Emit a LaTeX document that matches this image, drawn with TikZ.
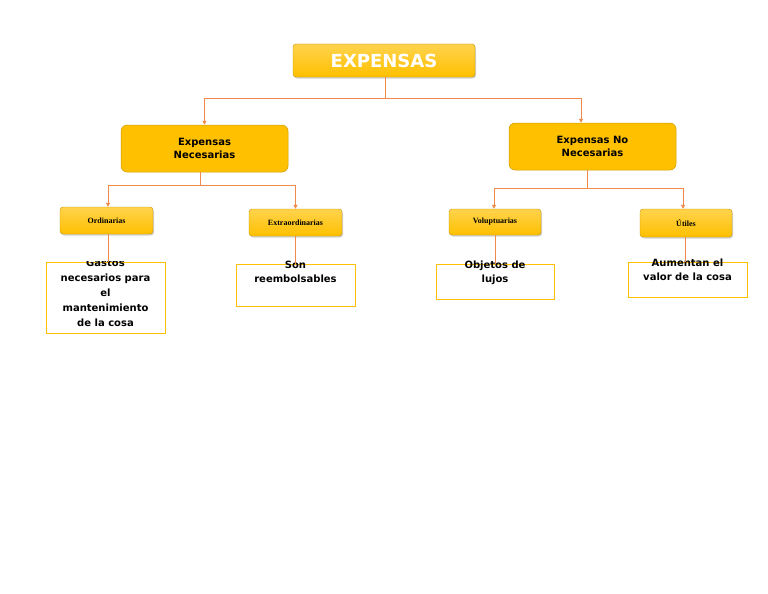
\documentclass[tikz,border=0pt]{standalone}
\usepackage{fontspec}
\setmainfont{DejaVu Sans}
\newfontfamily\serifb{Liberation Serif}
\usetikzlibrary{shadows,arrows.meta}
\definecolor{ln}{HTML}{F08A4B}
\definecolor{yl}{HTML}{FFC000}
\definecolor{yb}{HTML}{F2B600}
\tikzset{
 main/.style={draw=yb!80!black, line width=0.4pt, rounded corners=3pt, top color=yl!70, bottom color=yl, drop shadow={opacity=0.35,shadow xshift=1pt,shadow yshift=-1.5pt}, inner sep=0pt},
 mid/.style={draw=yb!85!black, line width=0.5pt, rounded corners=6pt, fill=yl, inner sep=0pt, align=center, font=\bfseries\fontsize{10}{13}\selectfont},
 small/.style={main, font=\serifb\bfseries\fontsize{8}{10}\selectfont},
 leaf/.style={draw=yl, line width=0.8pt, fill=white, inner sep=0pt},
 conn/.style={draw=ln, line width=1pt},
 arr/.style={conn, -{Triangle[length=4pt,width=4pt]}},
}
\begin{document}
\begin{tikzpicture}[x=1pt,y=-1pt]
\useasboundingbox (0,0) rectangle (768,594);
\fill[white] (0,0) rectangle (768,594);
\node[main, minimum width=182pt, minimum height=33pt, text=white, font=\bfseries\fontsize{18}{20}\selectfont] (top) at (384,60.5) {EXPENSAS};
\node[mid, minimum width=167pt, minimum height=47pt] (nec) at (204.5,148.5) {Expensas\\Necesarias};
\node[mid, minimum width=167pt, minimum height=47pt] (non) at (592.5,146.5) {Expensas No\\Necesarias};
\node[small, minimum width=93pt, minimum height=27pt] (ord) at (106.5,220.5) {Ordinarias};
\node[small, minimum width=93pt, minimum height=27pt] (ext) at (295.5,222.5) {Extraordinarias};
\node[small, minimum width=92pt, minimum height=26pt] (vol) at (495,222) {Voluptuarias};
\node[small, minimum width=92pt, minimum height=28pt] (uti) at (686,223) {Útiles};
\node[leaf, minimum width=119pt, minimum height=71pt] (l1) at (105.5,297.5) {};
\node[leaf, minimum width=119pt, minimum height=42pt] (l2) at (295.5,285) {};
\node[leaf, minimum width=118pt, minimum height=35pt] (l3) at (495,281.5) {};
\node[leaf, minimum width=119pt, minimum height=35pt] (l4) at (687.5,279.5) {};
\begin{scope}
\clip (l1.south west) rectangle (l1.north east);
\node[anchor=north, align=center, font=\bfseries\fontsize{10}{15}\selectfont, inner sep=0pt] at ([yshift=3pt]l1.north) {Gastos\\necesarios para\\el\\mantenimiento\\de la cosa};
\end{scope}
\node[anchor=north, align=center, font=\bfseries\fontsize{10}{14}\selectfont, inner sep=0pt] at ([yshift=3pt]l2.north) {Son\\reembolsables};
\node[anchor=north, align=center, font=\bfseries\fontsize{10}{14}\selectfont, inner sep=0pt] at ([yshift=3pt]l3.north) {Objetos de\\lujos};
\node[anchor=north, align=center, font=\bfseries\fontsize{10}{14}\selectfont, inner sep=0pt] at ([yshift=3pt]l4.north) {Aumentan el\\valor de la cosa};
% connectors
\coordinate (a0) at (385,98);
\draw[conn] (385,77) -- (a0);
\draw[arr] (a0) -| (nec.north);
\draw[arr] (a0) -| ([xshift=-11.5pt]non.north);
\coordinate (b0) at (200,185);
\draw[conn] ([xshift=-4.5pt]nec.south) -- (b0);
\draw[arr] (b0) -| ([xshift=1.5pt]ord.north);
\draw[arr] (b0) -| (ext.north);
\coordinate (c0) at (587,188);
\draw[conn] ([xshift=-5.5pt]non.south) -- (c0);
\draw[arr] (c0) -| ([xshift=-1pt]vol.north);
\draw[arr] (c0) -| ([xshift=-3pt]uti.north);
\draw[conn] ([xshift=1.5pt]ord.south) -- ([xshift=2.5pt]l1.north);
\draw[conn] (ext.south) -- (l2.north);
\draw[conn] (vol.south) -- (l3.north);
\draw[conn] ([xshift=-1pt]uti.south) -- ([xshift=-2.5pt]l4.north);
\end{tikzpicture}
\end{document}
